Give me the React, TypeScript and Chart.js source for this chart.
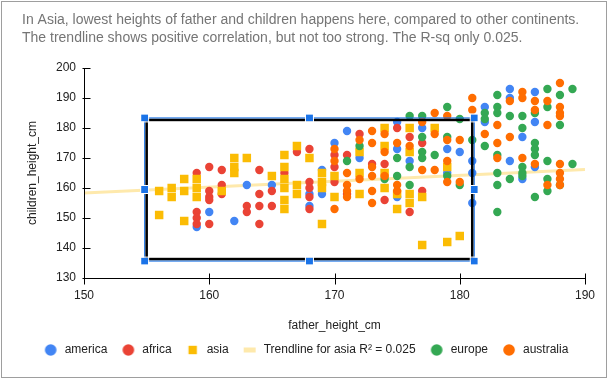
import React, { useEffect, useRef } from "react";
import { Chart, registerables } from "chart.js";

Chart.register(...registerables);

// ---------- text ----------
const TITLE_LINES = [
  "In Asia, lowest heights of father and children happens here, compared to other continents.",
  "The trendline shows positive correlation, but not too strong. The R-sq only 0.025.",
];
const X_TITLE = "father_height_cm";
const Y_TITLE = "children_height_cm";
const X_TICKS = [150, 160, 170, 180, 190];
const Y_TICKS = [130, 140, 150, 160, 170, 180, 190, 200];
const TREND_LABEL = "Trendline for asia R\u00b2 = 0.025";

// ---------- data: [father_height_cm, children_height_cm] ----------
const america: [number, number][] = [
  [159, 147], [160, 152], [162, 149], [163, 161], [165, 161], [168, 158], [168, 154],
  [169, 166], [169, 158], [170, 175], [171, 179], [172, 170], [175, 182], [175, 173],
  [175, 157], [176, 169], [177, 180], [179, 173], [179, 165], [180, 172], [181, 169],
  [181, 165], [181, 155], [182, 187], [182, 182], [184, 193], [184, 190], [184, 169],
  [185, 177], [185, 163], [186, 192], [186, 182], [186, 167],
];
const africa: [number, number][] = [
  [159, 165], [159, 152], [159, 150], [159, 148], [160, 167], [160, 159], [160, 157],
  [160, 156], [160, 148], [161, 166], [161, 161], [161, 158], [163, 154], [163, 152],
  [164, 166], [164, 158], [164, 154], [164, 148], [165, 159], [165, 154], [166, 165],
  [167, 172], [168, 173], [168, 162], [168, 160], [168, 157], [168, 153], [170, 171],
  [170, 167], [170, 162], [171, 171], [171, 158], [172, 178], [173, 168], [174, 168],
  [174, 156], [175, 180], [176, 177], [176, 152], [177, 175], [177, 159],
];
const asia: [number, number][] = [
  [156, 159], [156, 151], [157, 160], [157, 157], [158, 163], [158, 159], [158, 149],
  [159, 163], [159, 160], [159, 157], [161, 159], [162, 170], [162, 167], [162, 165],
  [163, 170], [165, 164], [166, 171], [166, 167], [166, 163], [166, 160], [166, 156],
  [166, 153], [167, 174], [167, 161], [167, 158], [168, 170], [169, 165], [169, 162],
  [169, 160], [169, 148], [170, 164], [170, 157], [172, 172], [172, 165], [172, 158],
  [174, 180], [174, 174], [174, 165], [174, 160], [175, 158], [175, 153], [176, 180],
  [176, 172], [176, 158], [176, 155], [177, 157], [177, 141], [178, 180], [179, 167],
  [179, 142], [180, 144],
];
const europe: [number, number][] = [
  [171, 169], [172, 174], [174, 163], [175, 170], [175, 164], [176, 184], [176, 167],
  [176, 161], [177, 184], [177, 177], [177, 172], [177, 170], [178, 171], [179, 187],
  [179, 177], [179, 164], [180, 183], [180, 161], [181, 176], [182, 185], [182, 183],
  [182, 174], [183, 191], [183, 187], [183, 185], [183, 171], [183, 165], [183, 161],
  [183, 152], [184, 184], [184, 163], [185, 184], [185, 180], [185, 167], [185, 165],
  [185, 164], [186, 185], [186, 175], [186, 173], [186, 171], [186, 157], [187, 193],
  [187, 187], [187, 169], [187, 163], [187, 159], [188, 191], [188, 181], [188, 161],
  [189, 193], [189, 168],
];
const australia: [number, number][] = [
  [170, 173], [170, 169], [170, 153], [171, 165], [171, 161], [171, 159], [171, 157],
  [172, 176], [172, 163], [173, 179], [173, 175], [173, 167], [173, 164], [173, 159],
  [173, 155], [174, 178], [174, 172], [174, 164], [175, 175], [175, 161], [175, 159],
  [176, 174], [177, 182], [177, 166], [178, 185], [178, 178], [178, 166], [179, 184],
  [179, 176], [179, 169], [179, 162], [180, 176], [180, 162], [181, 190], [181, 186],
  [182, 178], [183, 181], [183, 175], [183, 170], [184, 189], [184, 177], [185, 192],
  [185, 190], [185, 170], [186, 189], [186, 186], [186, 168], [187, 189], [187, 181],
  [187, 161], [188, 195], [188, 187], [188, 185], [188, 184], [188, 168], [188, 165],
  [188, 163], [188, 161],
];
// asia trendline, read at the two ends of the x axis
const asiaTrend: [number, number][] = [
  [150, 158.3],
  [190, 166.2],
];
// selection box drawn over the chart (data units)
const SELECTION = { xMin: 155, xMax: 181, yMin: 136.3, yMax: 182.7 };

// ---------- styles ----------
const BLUE = "#4285F4";
const RED = "#EA4335";
const YELLOW = "#FBBC04";
const GREEN = "#34A853";
const ORANGE = "#FF6D01";
const TREND_COLOR = "rgba(251,188,4,0.33)";
const FONT = "Arial, 'Liberation Sans', sans-serif";

// legend marker: 20px wide box, glyph centred at x=12
function marker(kind: string, color: string): HTMLCanvasElement {
  const c = document.createElement("canvas");
  c.width = 20;
  c.height = 12;
  const g = c.getContext("2d")!;
  g.fillStyle = color;
  if (kind === "circle") {
    g.beginPath();
    g.arc(12, 6, 5.8, 0, Math.PI * 2);
    g.fill();
  } else if (kind === "square") {
    g.fillRect(7.8, 1.8, 8.4, 8.4);
  } else {
    g.fillRect(6, 3.5, 12, 5);
  }
  return c;
}

const toPts = (a: [number, number][]) => a.map(([x, y]) => ({ x, y }));

const frameAndTitle = {
  id: "frameAndTitle",
  beforeDraw(chart: any) {
    const { ctx, width, height } = chart;
    ctx.save();
    ctx.fillStyle = "#fff";
    ctx.fillRect(0, 0, width, height);
    ctx.strokeStyle = "#9e9e9e";
    ctx.lineWidth = 1;
    ctx.strokeRect(1.5, 1.5, width - 3, height - 3);
    ctx.restore();
  },
  afterDraw(chart: any) {
    const { ctx } = chart;
    ctx.save();
    ctx.font = `14px ${FONT}`;
    ctx.fillStyle = "#757575";
    ctx.textBaseline = "middle";
    ctx.textAlign = "left";
    TITLE_LINES.forEach((t, i) => ctx.fillText(t, 22, 20.5 + i * 18));
    ctx.restore();
  },
};

const axesPlugin = {
  id: "axesPlugin",
  afterDraw(chart: any) {
    const { ctx, chartArea } = chart;
    const { x, y } = chart.scales;
    const L = Math.round(chartArea.left) + 0.5;
    const B = Math.round(chartArea.bottom) + 0.5;
    ctx.save();
    ctx.strokeStyle = "#000";
    ctx.lineWidth = 1;
    ctx.beginPath();
    ctx.moveTo(L, chartArea.top);
    ctx.lineTo(L, B);
    ctx.lineTo(chartArea.right + 0.5, B);
    Y_TICKS.forEach((v) => {
      const py = Math.round(y.getPixelForValue(v)) + 0.5;
      ctx.moveTo(L - 2, py);
      ctx.lineTo(L + 6, py);
    });
    X_TICKS.forEach((v) => {
      const px = Math.round(x.getPixelForValue(v)) + 0.5;
      ctx.moveTo(px, B - 5);
      ctx.lineTo(px, B + 6);
    });
    ctx.stroke();
    ctx.restore();
  },
};

const selectionPlugin = {
  id: "selectionPlugin",
  afterDatasetsDraw(chart: any) {
    const { ctx } = chart;
    const { x, y } = chart.scales;
    const l = x.getPixelForValue(SELECTION.xMin);
    const r = x.getPixelForValue(SELECTION.xMax);
    const t = y.getPixelForValue(SELECTION.yMax);
    const b = y.getPixelForValue(SELECTION.yMin);
    ctx.save();
    ctx.strokeStyle = "#000";
    ctx.lineWidth = 2.6;
    ctx.strokeRect(l, t, r - l, b - t);
    const o = 2;
    ctx.strokeStyle = "#1a73e8";
    ctx.lineWidth = 1;
    ctx.strokeRect(l - o, t - o, r - l + 2 * o, b - t + 2 * o);
    const xs = [l - o, (l + r) / 2, r + o];
    const ys = [t - o, (t + b) / 2, b + o];
    ctx.fillStyle = "#1a73e8";
    ctx.strokeStyle = "#fff";
    ctx.lineWidth = 1;
    xs.forEach((hx, i) =>
      ys.forEach((hy, j) => {
        if (i === 1 && j === 1) return;
        ctx.fillRect(hx - 3.5, hy - 3.5, 7, 7);
        ctx.strokeRect(hx - 4, hy - 4, 8, 8);
      })
    );
    ctx.restore();
  },
};

export default function App() {
  const ref = useRef<HTMLCanvasElement | null>(null);
  useEffect(() => {
    if (!ref.current) return;
    const scatter = (label: string, pts: [number, number][], color: string, order: number, rect = false) => ({
      type: "scatter" as const,
      label,
      data: toPts(pts),
      backgroundColor: color,
      borderColor: color,
      borderWidth: 0,
      pointStyle: rect ? "rect" : "circle",
      pointRadius: rect ? 6 : 4.2,
      pointHoverRadius: rect ? 6 : 4.2,
      order,
    });
    const datasets: any[] = [
      scatter("america", america, BLUE, 5),
      scatter("africa", africa, RED, 4),
      scatter("asia", asia, YELLOW, 3, true),
      {
        type: "line",
        label: TREND_LABEL,
        data: toPts(asiaTrend),
        borderColor: TREND_COLOR,
        backgroundColor: TREND_COLOR,
        borderWidth: 3,
        pointRadius: 0,
        fill: false,
        order: 9,
      },
      scatter("europe", europe, GREEN, 2),
      scatter("australia", australia, ORANGE, 1),
    ];
    const markers = [
      marker("circle", BLUE),
      marker("circle", RED),
      marker("square", YELLOW),
      marker("line", TREND_COLOR),
      marker("circle", GREEN),
      marker("circle", ORANGE),
    ];
    const tickFont = { family: FONT, size: 12 };
    const chart = new Chart(ref.current, {
      type: "scatter",
      data: { datasets },
      options: {
        animation: false,
        responsive: false,
        layout: { padding: { left: 22, right: 23, top: 68, bottom: 13 } },
        plugins: {
          tooltip: { enabled: false },
          title: { display: false },
          legend: {
            position: "bottom",
            labels: {
              usePointStyle: true,
              pointStyleWidth: 20,
              boxWidth: 20,
              boxHeight: 12,
              padding: 9,
              color: "#222",
              font: { family: FONT, size: 12 },
              generateLabels: () =>
                datasets.map((d, i) => ({
                  text: d.label,
                  fillStyle: d.backgroundColor,
                  strokeStyle: d.borderColor,
                  lineWidth: 0,
                  pointStyle: markers[i],
                  hidden: false,
                  datasetIndex: i,
                  fontColor: "#222",
                })),
            },
          },
        },
        scales: {
          x: {
            type: "linear",
            min: 150,
            max: 190,
            afterBuildTicks: (s: any) => {
              s.ticks = X_TICKS.map((v) => ({ value: v }));
            },
            afterFit: (s: any) => {
              s.height = 57;
            },
            ticks: { font: tickFont, color: "#222", padding: 10 },
            grid: { display: false, drawTicks: false },
            border: { display: false },
            title: {
              display: true,
              text: X_TITLE,
              color: "#222",
              font: tickFont,
              padding: { top: 0, bottom: 2 },
            },
          },
          y: {
            type: "linear",
            min: 130,
            max: 200,
            afterBuildTicks: (s: any) => {
              s.ticks = Y_TICKS.map((v) => ({ value: v }));
            },
            afterFit: (s: any) => {
              s.width = 62;
            },
            ticks: { font: tickFont, color: "#222", padding: 8 },
            grid: { display: false, drawTicks: false },
            border: { display: false },
            title: {
              display: true,
              text: Y_TITLE,
              color: "#222",
              font: tickFont,
              padding: { top: 3, bottom: 0 },
            },
          },
        },
      } as any,
      plugins: [frameAndTitle, axesPlugin, selectionPlugin],
    });
    return () => chart.destroy();
  }, []);
  return (
    <div style={{ position: "absolute", left: 0, top: 0, width: 608, height: 379 }}>
      <canvas ref={ref} width={608} height={379} style={{ display: "block", width: 608, height: 379 }} />
    </div>
  );
}
